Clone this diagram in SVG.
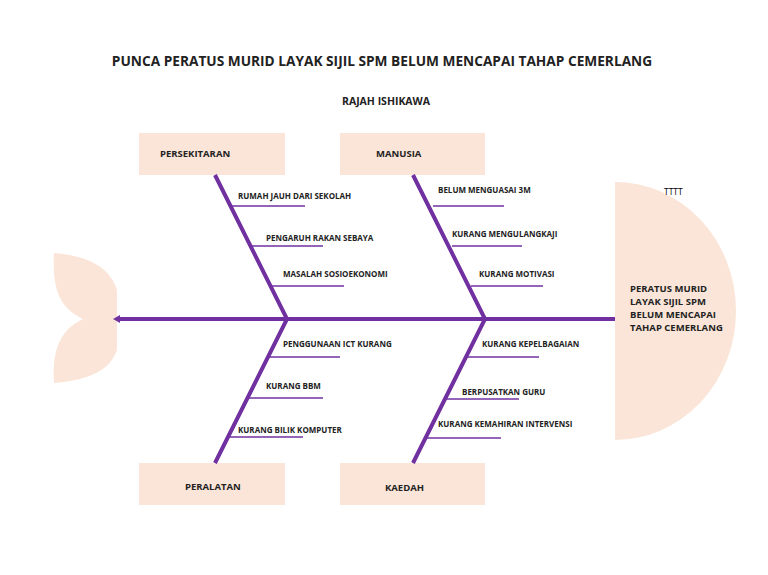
<svg xmlns="http://www.w3.org/2000/svg" width="768" height="575" viewBox="0 0 768 575">
<style>
.box{fill:#fae5d8}
.t{font-family:"Open Sans","Liberation Sans",sans-serif;font-weight:bold;fill:#222}
.s{font-size:8px}
.b{font-size:9.5px}
.bone{stroke:#7030a0;stroke-width:4;fill:none}
.sub{stroke:#7030a0;stroke-width:1.3}
</style>
<rect width="768" height="575" fill="#fff"/>
<text class="t" x="382" y="66" text-anchor="middle" font-size="13.7" fill="#000">PUNCA PERATUS MURID LAYAK SIJIL SPM BELUM MENCAPAI TAHAP CEMERLANG</text>
<text class="t" x="386" y="105" text-anchor="middle" font-size="10.5" fill="#444">RAJAH ISHIKAWA</text>
<g id="tail"><path class="box" d="M54,253 C90,256 110,268 117,290 L117,350 C110,370 90,380 54,383 C52,350 60,330 83,319 C60,308 52,290 54,253 Z"/></g>
<g id="head"><path class="box" d="M615,182 A121,129 0 0 1 615,440 Z"/>
<text x="664" y="195" font-size="8.5" font-family="Open Sans, Liberation Sans, sans-serif" fill="#000">TTTT</text>
<text class="t" fill="#000" font-size="9.5"><tspan x="630" y="292">PERATUS MURID</tspan><tspan x="630" y="305">LAYAK SIJIL SPM</tspan><tspan x="630" y="318">BELUM MENCAPAI</tspan><tspan x="630" y="331">TAHAP CEMERLANG</tspan></text></g>
<g id="persekitaran"><rect class="box" x="139" y="133" width="146" height="42"/><text class="t b" x="160" y="157" fill="#000">PERSEKITARAN</text></g>
<g id="manusia"><rect class="box" x="340" y="133" width="145" height="42"/><text class="t b" x="376" y="157" fill="#000">MANUSIA</text></g>
<g id="peralatan"><rect class="box" x="139" y="463" width="146" height="42"/><text class="t b" x="185" y="490" fill="#000">PERALATAN</text></g>
<g id="kaedah"><rect class="box" x="340" y="463" width="145" height="42"/><text class="t b" x="385" y="491" fill="#000">KAEDAH</text></g>
<g id="connectors">
<path class="bone" d="M117,319 L615,319"/>
<path d="M113,319 L120,315 L120,323 Z" fill="#7030a0"/>
<path class="bone" d="M215,175 L287,319 L215,463"/>
<path class="bone" d="M413,175 L485,319 L413,463"/>
<line class="sub" x1="232" y1="206" x2="305" y2="206"/>
<line class="sub" x1="252" y1="246" x2="323" y2="246"/>
<line class="sub" x1="272" y1="286" x2="344" y2="286"/>
<line class="sub" x1="268" y1="357" x2="340" y2="357"/>
<line class="sub" x1="248" y1="398" x2="323" y2="398"/>
<line class="sub" x1="230" y1="437" x2="303" y2="437"/>
<line class="sub" x1="433" y1="206" x2="504" y2="206"/>
<line class="sub" x1="452" y1="246" x2="522" y2="246"/>
<line class="sub" x1="471" y1="286" x2="543" y2="286"/>
<line class="sub" x1="467" y1="357" x2="539" y2="357"/>
<line class="sub" x1="447" y1="399" x2="519" y2="399"/>
<line class="sub" x1="427" y1="438" x2="501" y2="438"/>
</g>
<g id="labels" class="t s">
<text x="238" y="199">RUMAH JAUH DARI SEKOLAH</text>
<text x="266" y="241">PENGARUH RAKAN SEBAYA</text>
<text x="283" y="277">MASALAH SOSIOEKONOMI</text>
<text x="283" y="347">PENGGUNAAN ICT KURANG</text>
<text x="266" y="389">KURANG BBM</text>
<text x="238" y="433">KURANG BILIK KOMPUTER</text>
<text x="438" y="193">BELUM MENGUASAI 3M</text>
<text x="452" y="237">KURANG MENGULANGKAJI</text>
<text x="479" y="277">KURANG MOTIVASI</text>
<text x="482" y="347">KURANG KEPELBAGAIAN</text>
<text x="462" y="395">BERPUSATKAN GURU</text>
<text x="438" y="427">KURANG KEMAHIRAN INTERVENSI</text>
</g>
</svg>
